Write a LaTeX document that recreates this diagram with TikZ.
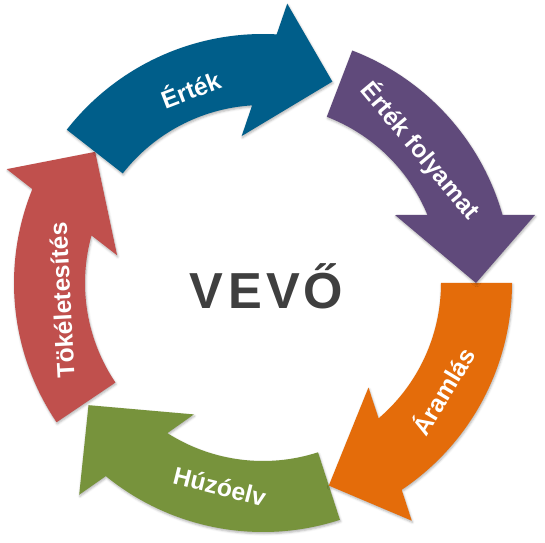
\documentclass[tikz,border=0pt]{standalone}
\usepackage{fontspec}
\setmainfont{Liberation Sans}
\usetikzlibrary{shadows.blur}
\definecolor{Ocean}{HTML}{005E8A}
\definecolor{Plum}{HTML}{604A7B}
\definecolor{Amber}{HTML}{E46C0A}
\definecolor{Olive}{HTML}{77933C}
\definecolor{Ruby}{HTML}{C0504D}
\definecolor{Ink}{HTML}{3F3F3F}

\begin{document}
\begin{tikzpicture}[
  x=0.025cm, y=0.025cm,
  cyclearrow/.style={
    blur shadow={shadow xshift=0.5pt, shadow yshift=-1.2pt,
      shadow blur radius=1.6pt, shadow opacity=30}
  },
  arrowtext/.style={
    text=white,
    font=\bfseries\fontsize{17.5}{20}\selectfont,
    inner sep=0pt
  },
  hub/.style={
    text=Ink,
    font=\bfseries\fontsize{36}{40}\selectfont,
    inner sep=0pt
  }
]

\useasboundingbox (-263,-260) rectangle (282,283);

% five block arcs, tail angle / tip angle
\foreach \col/\tail/\tip in {Ruby/-146/-218, Olive/-72/-145, Amber/0/-72, Plum/69/0, Ocean/142/71} {
  \fill[\col, cyclearrow] (\tail:249)
    arc[start angle=\tail, end angle=\tip+15.85, radius=249]
    -- (\tip+14.04:280.4) -- (\tip:213) -- (\tip+27.25:148.5)
    -- (\tip+22.5:178)
    arc[start angle=\tip+22.5, end angle=\tail, radius=178] -- cycle;
}

\node[arrowtext, rotate=21] (value) at (110.5:208) {Érték};
\node[arrowtext, rotate=-50] (stream) at (40:206) {Érték folyamat};
\node[arrowtext, rotate=59] (flow) at (-31:209) {Áramlás};
\node[arrowtext, rotate=-14] (pull) at (-102:208) {Húzóelv};
\node[arrowtext, rotate=93] (perfection) at (185:202) {Tökéletesítés};

\node[hub] (customer) at (3,-3) {V\hspace{3.5pt}E\hspace{3.5pt}V\hspace{2pt}Ő};

\end{tikzpicture}
\end{document}
